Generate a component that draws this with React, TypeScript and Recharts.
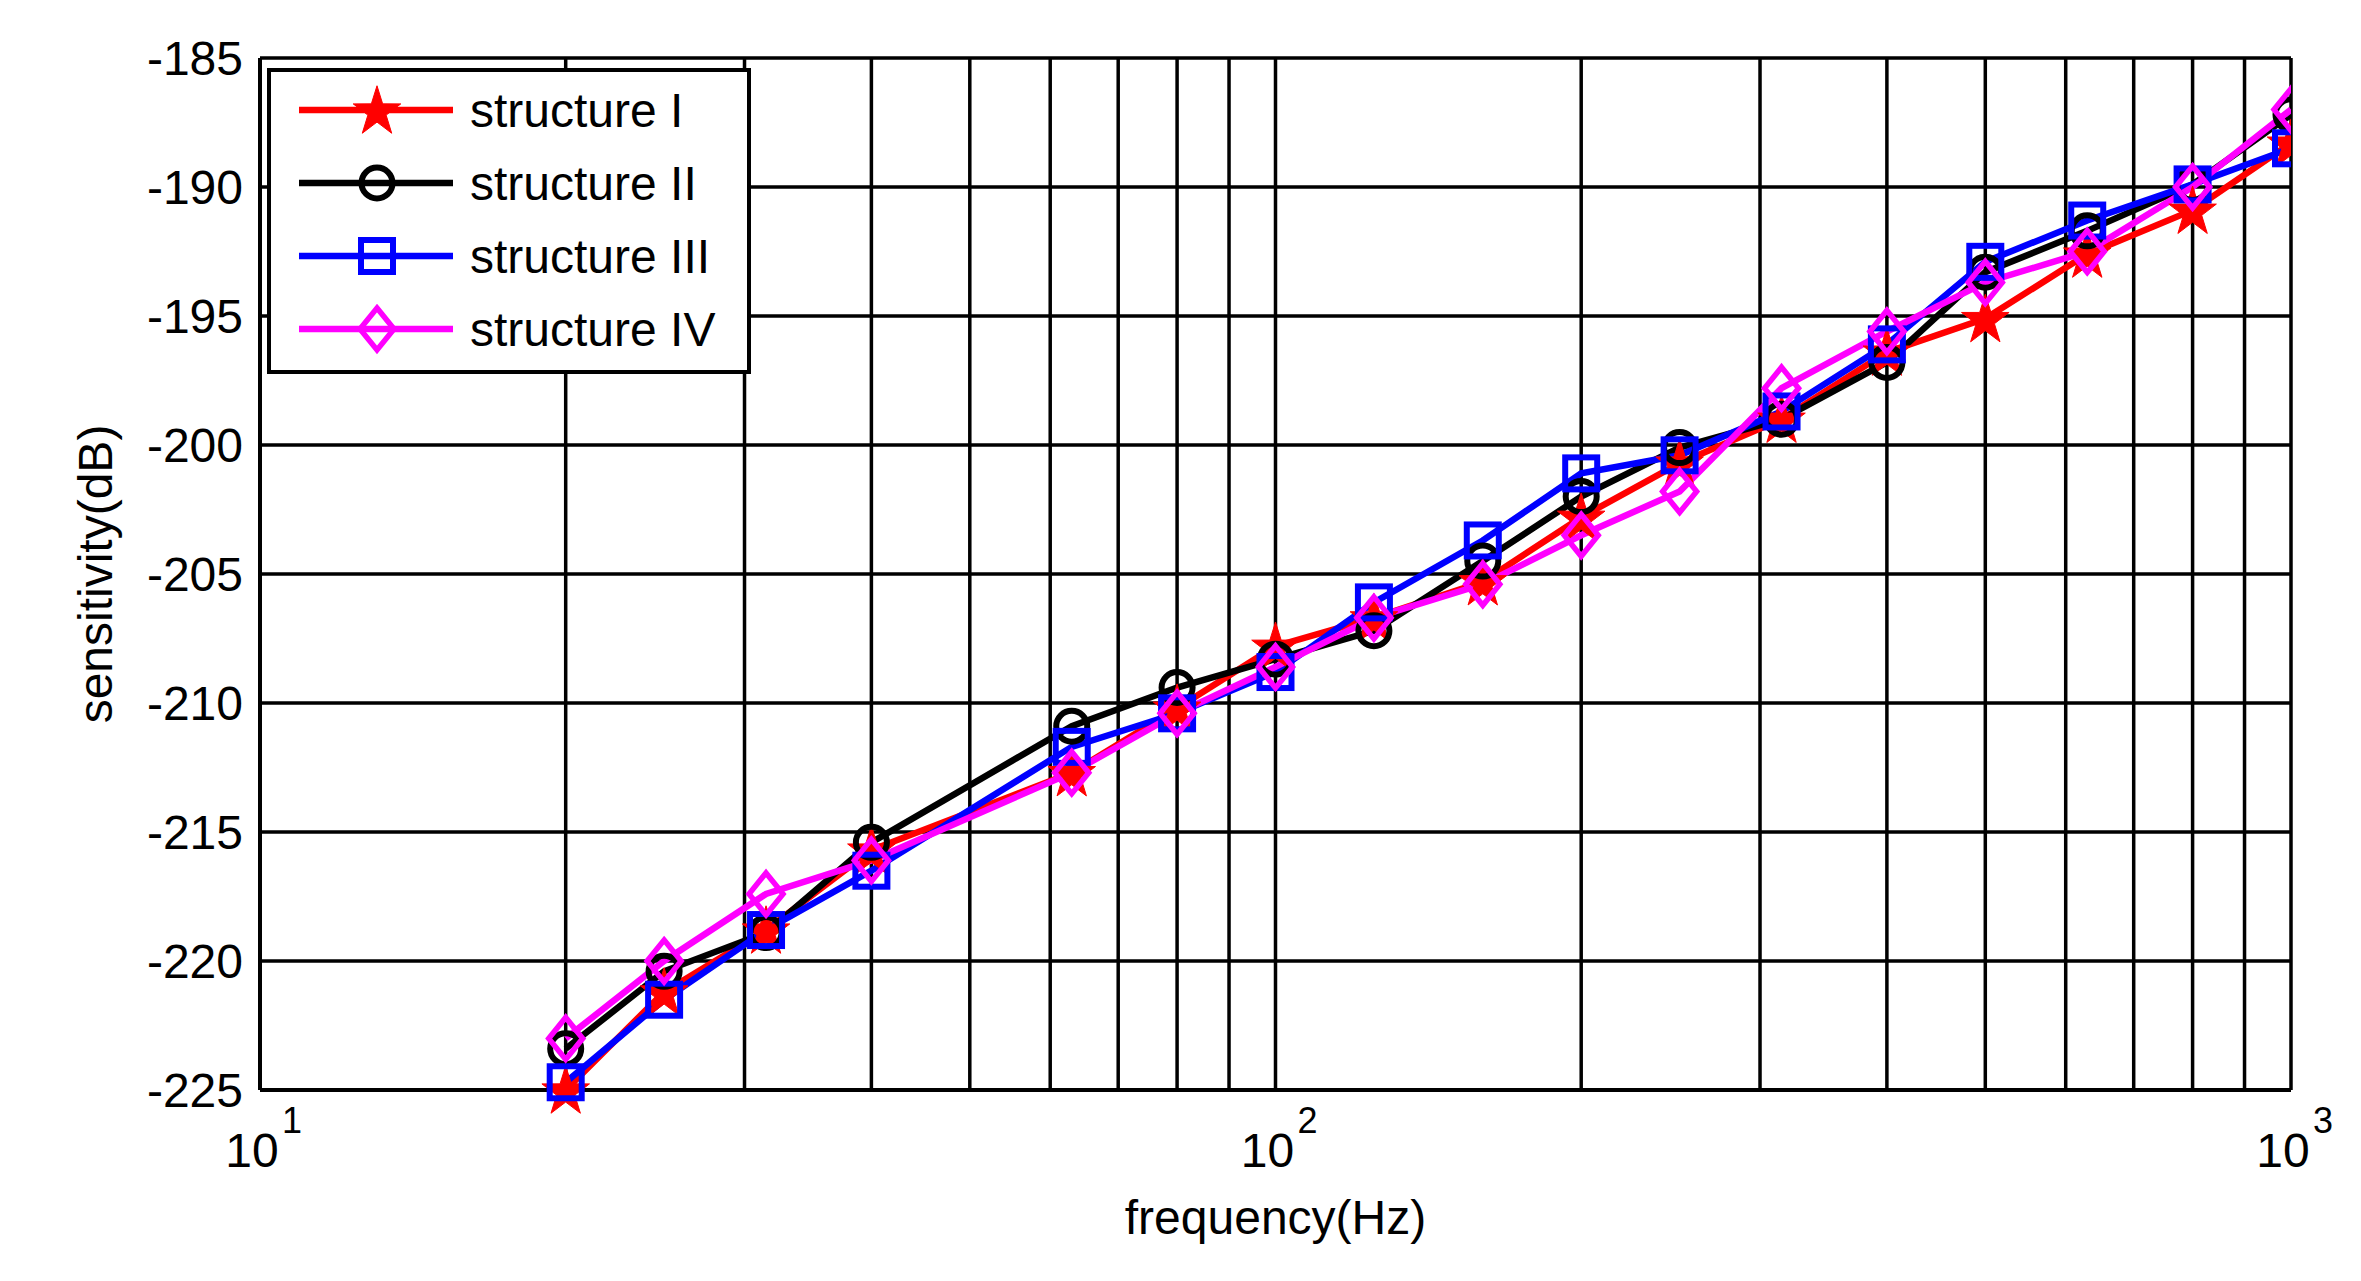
import React from 'react';
import { LineChart, Line, XAxis, YAxis, CartesianGrid, Legend } from 'recharts';

const frequencies = [20, 25, 31.5, 40, 63, 80, 100, 125, 160, 200, 250, 315, 400, 500, 630, 800, 1000];
const structureI = [-225.0, -221.2, -218.8, -215.7, -212.7, -210.2, -207.8, -206.7, -205.3, -202.8, -200.7, -199.0, -196.4, -195.1, -192.6, -190.9, -188.3];
const structureII = [-223.4, -220.4, -218.9, -215.4, -210.9, -209.4, -208.3, -207.2, -204.5, -202.0, -200.1, -199.0, -196.8, -193.3, -191.7, -189.9, -187.2];
const structureIII = [-224.7, -221.5, -218.8, -216.5, -211.7, -210.4, -208.8, -206.1, -203.7, -201.1, -200.4, -198.7, -196.1, -192.9, -191.3, -189.9, -188.5];
const structureIV = [-223.0, -220.0, -217.4, -216.1, -212.7, -210.4, -208.6, -206.7, -205.4, -203.5, -201.8, -197.8, -195.6, -193.7, -192.5, -190.0, -187.0];

const seriesNames = ['structure I', 'structure II', 'structure III', 'structure IV'];
const seriesKeys = ['s1', 's2', 's3', 's4'];
const seriesColors = ['#ff0000', '#000000', '#0000ff', '#ff00ff'];
const seriesMarkers = ['star', 'circle', 'square', 'diamond'];

const xGridTicks = [10, 20, 30, 40, 50, 60, 70, 80, 90, 100, 200, 300, 400, 500, 600, 700, 800, 900, 1000];
const xLabelTicks = [10, 100, 1000];
const yTicks = [-225, -220, -215, -210, -205, -200, -195, -190, -185];

const data = frequencies.map((f, i) => ({
  f,
  s1: structureI[i],
  s2: structureII[i],
  s3: structureIII[i],
  s4: structureIV[i],
}));

const FONT = '"Liberation Sans", Arial, Helvetica, sans-serif';
const LINE_W = 6.5;
const MARK_W = 6;

function starPoints(cx: number, cy: number) {
  const R = 25;
  const r = 9.6;
  const ky = 1.05;
  const pts: string[] = [];
  for (let i = 0; i < 10; i++) {
    const a = (-90 + i * 36) * Math.PI / 180;
    const rad = i % 2 === 0 ? R : r;
    pts.push(`${cx + rad * Math.cos(a)},${cy + rad * Math.sin(a) * ky + 2}`);
  }
  return pts.join(' ');
}

function renderMarker(kind: string, cx: number, cy: number, color: string, key?: any) {
  if (cx == null || cy == null || isNaN(cx) || isNaN(cy)) return <g key={key} />;
  switch (kind) {
    case 'star':
      return <polygon key={key} points={starPoints(cx, cy)} fill={color} stroke={color} strokeWidth={1} />;
    case 'circle':
      return <circle key={key} cx={cx} cy={cy} r={15.5} fill="none" stroke={color} strokeWidth={MARK_W} />;
    case 'square':
      return <rect key={key} x={cx - 16} y={cy - 16} width={32} height={32} fill="none" stroke={color} strokeWidth={MARK_W} />;
    case 'diamond':
      return (
        <polygon
          key={key}
          points={`${cx},${cy - 21} ${cx + 17},${cy} ${cx},${cy + 21} ${cx - 17},${cy}`}
          fill="none"
          stroke={color}
          strokeWidth={MARK_W - 0.5}
          strokeLinejoin="miter"
        />
      );
    default:
      return <g key={key} />;
  }
}

const XTick = (props: any) => {
  const { x, y, payload } = props;
  const v = payload.value;
  if (!xLabelTicks.includes(v)) return <g />;
  const exp = Math.round(Math.log10(v));
  return (
    <g>
      <text x={x - 8} y={y + 77} textAnchor="middle" fontSize={48} fontFamily={FONT} fill="#000">10</text>
      <text x={x + 22} y={y + 43} textAnchor="start" fontSize={36} fontFamily={FONT} fill="#000">{exp}</text>
    </g>
  );
};

const YTick = (props: any) => {
  const { x, y, payload } = props;
  return (
    <text x={x} y={y} dy={17} textAnchor="end" fontSize={48} fontFamily={FONT} fill="#000">
      {payload.value}
    </text>
  );
};

const LegendBox = (props: any) => {
  const payload = props.payload || [];
  const entries = seriesKeys.map((k, i) => {
    const p = payload.find((e: any) => e.dataKey === k);
    return { key: k, name: p ? p.value : seriesNames[i], color: p ? p.color : seriesColors[i], marker: seriesMarkers[i] };
  });
  return (
    <svg width={484} height={306} style={{ display: 'block' }}>
      <rect x={2} y={2} width={480} height={302} fill="#fff" stroke="#000" strokeWidth={4} />
      {entries.map((e, i) => {
        const cy = 42 + i * 73;
        return (
          <g key={e.key}>
            <line x1={32} x2={186} y1={cy} y2={cy} stroke={e.color} strokeWidth={LINE_W} />
            {renderMarker(e.marker, 110, cy, e.color)}
            <text x={203} y={cy + 17} fontSize={48} fontFamily={FONT} fill="#000">{e.name}</text>
          </g>
        );
      })}
    </svg>
  );
};

export default function App() {
  return (
    <div style={{ position: 'fixed', left: 0, top: 0, width: 2361, height: 1281, background: '#fff' }}>
      <LineChart width={2361} height={1281} data={data} margin={{ top: 58, right: 70, bottom: 0, left: 0 }}>
        <CartesianGrid stroke="#000" strokeWidth={3.5} fill="none" />
        <XAxis
          dataKey="f"
          type="number"
          scale="log"
          domain={[10, 1000]}
          ticks={xGridTicks}
          interval={0}
          allowDataOverflow
          height={191}
          tickLine={false}
          axisLine={{ stroke: '#000', strokeWidth: 4 }}
          tickSize={0}
          tickMargin={0}
          tick={<XTick />}
          label={(p: any) => {
            const vb = p.viewBox || {};
            return (
              <text x={vb.x + vb.width / 2} y={1234} textAnchor="middle" fontSize={48} fontFamily={FONT} fill="#000">
                frequency(Hz)
              </text>
            );
          }}
        />
        <YAxis
          type="number"
          domain={[-225, -185]}
          ticks={yTicks}
          interval={0}
          width={260}
          tickLine={false}
          axisLine={{ stroke: '#000', strokeWidth: 4 }}
          tickSize={0}
          tickMargin={17}
          tick={<YTick />}
          label={(p: any) => {
            const vb = p.viewBox || {};
            const cy = vb.y + vb.height / 2;
            return (
              <text x={112} y={cy} transform={`rotate(-90 112 ${cy})`} textAnchor="middle" fontSize={48} fontFamily={FONT} fill="#000">
                sensitivity(dB)
              </text>
            );
          }}
        />
        <Legend
          layout="vertical"
          align="center"
          verticalAlign="middle"
          wrapperStyle={{ left: 267, top: 68, width: 484, height: 306 }}
          content={<LegendBox />}
        />
        {seriesKeys.map((k, i) => (
          <Line
            key={k}
            dataKey={k}
            name={seriesNames[i]}
            type="linear"
            stroke={seriesColors[i]}
            strokeWidth={LINE_W}
            isAnimationActive={false}
            activeDot={false}
            dot={(p: any) => renderMarker(seriesMarkers[i], p.cx, p.cy, seriesColors[i], `${k}-${p.index}`)}
          />
        ))}
      </LineChart>
    </div>
  );
}
